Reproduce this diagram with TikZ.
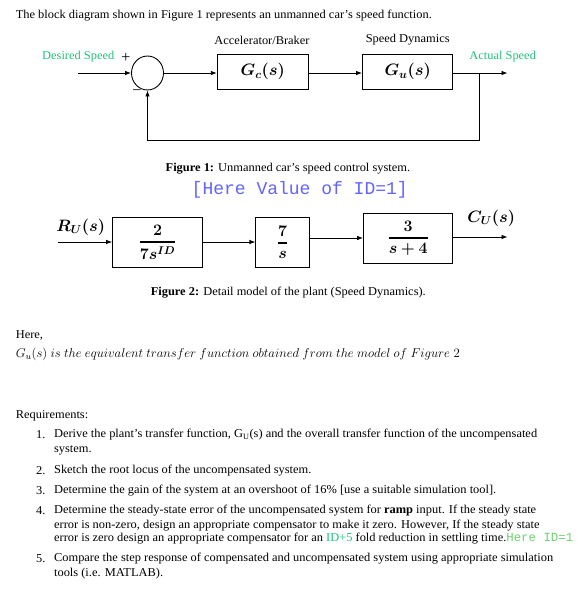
\RequirePackage{fix-cm}
\documentclass[tikz,border=0pt]{standalone}
\usepackage{amsmath,bm}
\usepackage{fontspec}
\setmainfont{Liberation Serif}[FakeStretch=1.035]
\newfontfamily\monofont{Liberation Mono}
\newfontfamily\symfont{Liberation Serif}
\usetikzlibrary{arrows.meta,shapes.geometric}
\definecolor{sgreen}{RGB}{30,195,125}
\definecolor{idblue}{RGB}{100,100,255}
\definecolor{lgreen}{RGB}{110,210,110}
\newcommand{\tfr}[2]{\genfrac{}{}{1.3pt}{0}{#1}{#2}}
\begin{document}
\begin{tikzpicture}[x=1pt,y=-1pt,
  txt/.style={inner sep=0pt, anchor=west, font=\fontsize{12}{14}\selectfont},
  ctr/.style={inner sep=0pt, font=\fontsize{12}{14}\selectfont},
  blk/.style={draw, line width=0.9pt, inner sep=0pt},
  arr/.style={-{Latex[length=6pt,width=4.5pt]}, line width=0.8pt},
  mth/.style={inner sep=0pt, font=\fontsize{16.5}{19}\selectfont},
  frac/.style={blk, font=\fontsize{16}{19}\selectfont}]
\useasboundingbox (0,0) rectangle (580,606);
\fill[white] (0,0) rectangle (580,606);

\node[txt] (title) at (15.6,16) {The block diagram shown in Figure 1 represents an unmanned car’s speed function.};

% Figure 1
\node[ctr] (acc) at (262,40) {Accelerator/Braker};
\node[ctr] (sdyn) at (407.7,40) {Speed Dynamics};
\node[txt, text=sgreen] (des) at (42,57) {Desired Speed};
\node[inner sep=0pt, font=\symfont\fontsize{16}{16}\selectfont] (plus) at (126,58) {+};
\node[draw, ellipse, minimum width=32pt, minimum height=34pt, inner sep=0pt, line width=0.9pt] (sum) at (147.5,73) {};
\node[inner sep=0pt, font=\symfont\fontsize{16}{16}\selectfont] (minus) at (137,93) {−};
\coordinate (in1) at (78,73);
\node[blk, mth, minimum width=91pt, minimum height=35.3pt] (gc) at (262.8,71.7) {$\bm{G_c(s)}$};
\node[blk, mth, minimum width=90.4pt, minimum height=35.3pt] (gu) at (407.7,71.7) {$\bm{G_u(s)}$};
\coordinate (br) at (478.9,73);
\coordinate (out1) at (507.5,73);
\coordinate (fb1) at (478.9,140);
\coordinate (fb2) at (147.5,140);
\node[txt, text=sgreen] (act) at (469.2,57) {Actual Speed};
\draw[arr] (in1) -- (sum.west);
\draw[arr] (sum.east) -- (sum.east -| gc.west);
\draw[arr] (gc.east |- sum.east) -- (gu.west |- sum.east);
\draw[arr] (gu.east |- br) -- (out1);
\draw[arr] (br) -- (fb1) -- (fb2) -- (sum.south);

\node[txt] (cap1) at (165.5,169) {\textbf{Figure 1:} Unmanned car’s speed control system.};
\node[txt, text=idblue, font=\monofont\fontsize{18}{20}\selectfont] (idnote) at (191.5,190) {[Here Value of ID=1]};

% Figure 2
\node[mth] (ru) at (80.8,227) {$\bm{R_U(s)}$};
\coordinate (in2) at (57.6,242);
\node[frac, minimum width=90pt, minimum height=50pt] (b1) at (157.6,242) {$\tfr{\bm{2}}{\bm{7s^{ID}}}$};
\node[frac, minimum width=53.5pt, minimum height=50pt] (b2) at (282.6,242) {$\tfr{\bm{7}}{\bm{s}}$};
\node[frac, minimum width=89.3pt, minimum height=50pt] (b3) at (408.2,238) {$\tfr{\bm{3}}{\bm{s+4}}$};
\coordinate (out2) at (507.5,237);
\node[mth] (cu) at (491.3,218) {$\bm{C_U(s)}$};
\draw[arr] (in2) -- (b1.west);
\draw[arr] (b1.east) -- (b2.west);
\draw[arr] (b2.east |- b3.west) -- (b3.west);
\draw[arr] (b3.east |- out2) -- (out2);
\node[txt] (cap2) at (150.6,293) {\textbf{Figure 2:} Detail model of the plant (Speed Dynamics).};

% Text
\node[txt] (here) at (15.6,335) {Here,};
\node[txt, font=\fontsize{12.8}{14}\selectfont] (gudef) at (15.6,354) {$G_u(s)\ is\ the\ equivalent\ transfer\ function\ obtained\ from\ the\ model\ of\ Figure\ 2$};

\node[txt] (req) at (15.6,416) {Requirements:};
\node[txt] (n1) at (36,435) {1.};
\node[txt] (r1a) at (53.9,435) {Derive the plant’s transfer function, G\textsubscript{U}(s) and the overall transfer function of the uncompensated};
\node[txt] (r1b) at (53.9,450) {system.};
\node[txt] (n2) at (36,471) {2.};
\node[txt] (r2) at (53.9,471) {Sketch the root locus of the uncompensated system.};
\node[txt] (n3) at (36,491) {3.};
\node[txt] (r3) at (53.9,491) {Determine the gain of the system at an overshoot of 16\% [use a suitable simulation tool].};
\node[txt] (n4) at (36,511) {4.};
\node[txt] (r4a) at (53.9,511) {Determine the steady-state error of the uncompensated system for \textbf{ramp} input. If the steady state};
\node[txt] (r4b) at (53.9,525.5) {error is non-zero, design an appropriate compensator to make it zero. However, If the steady state};
\node[txt] (r4c) at (53.9,539) {error is zero design an appropriate compensator for an \textcolor{sgreen}{ID+5} fold reduction in settling time.{\monofont\fontsize{12.4}{14}\selectfont\color{lgreen}Here ID=1}};
\node[txt] (n5) at (36,559) {5.};
\node[txt] (r5a) at (53.9,559) {Compare the step response of compensated and uncompensated system using appropriate simulation};
\node[txt] (r5b) at (53.9,574) {tools (i.e. MATLAB).};
\end{tikzpicture}
\end{document}
